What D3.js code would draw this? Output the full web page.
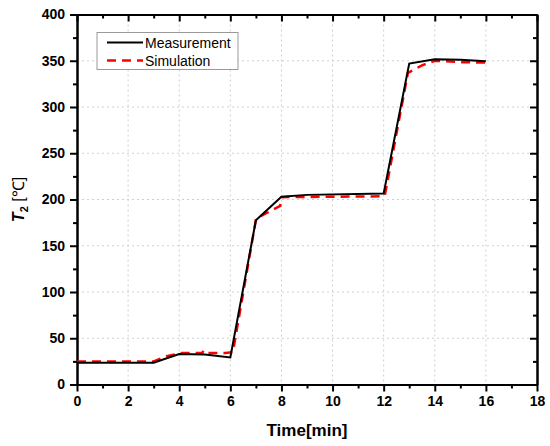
<!DOCTYPE html>
<html>
<head>
<meta charset="utf-8">
<script src="https://cdn.jsdelivr.net/npm/d3@7"></script>
<style>
  body { margin: 0; background: #fff; }
  text { font-family: Arial, "Liberation Sans", sans-serif; }
</style>
</head>
<body>
<div id="chart"></div>
<script>
// data
const measTime = [0, 3, 4, 5, 6, 7, 8, 9, 12, 13, 14, 15, 16];
const measTemp = [23.5, 23.5, 33, 32.5, 29.3, 177.5, 203, 205, 206.5, 347, 351.5, 351, 349.5];

const simTime = [0, 3, 3.5, 4.1, 4.9, 4.95, 5.05, 5.8, 6.1, 7, 7.05, 7.95, 8, 12, 12.05, 12.95, 13.5, 14, 15, 16];
const simTemp = [25, 25, 30.5, 34, 34, 36.5, 34, 34, 35, 178, 180, 193, 202.5, 203.5, 205, 337, 345, 350, 348.5, 348];

const xTicks = [0, 2, 4, 6, 8, 10, 12, 14, 16, 18];
const yTicks = [0, 50, 100, 150, 200, 250, 300, 350, 400];

const margin = {top: 14.5, right: 13, bottom: 61.5, left: 77},
      width = 550 - margin.left - margin.right,
      height = 446 - margin.top - margin.bottom;

const svg = d3.select("#chart").append("svg").attr("width", 550).attr("height", 446)
              .append("g").attr("transform", `translate(${margin.left},${margin.top})`);

const x = d3.scaleLinear().domain([0, 18]).range([0, width]);
const y = d3.scaleLinear().domain([0, 400]).range([height, 0]);

// grid
svg.append("g").selectAll("line").data(xTicks.slice(1, -1)).join("line")
   .attr("x1", d => x(d)).attr("x2", d => x(d)).attr("y1", 0).attr("y2", height)
   .attr("stroke", "#cfcfcf").attr("stroke-width", 1).attr("stroke-dasharray", "2,3");
svg.append("g").selectAll("line").data(yTicks.slice(1, -1)).join("line")
   .attr("y1", d => y(d)).attr("y2", d => y(d)).attr("x1", 0).attr("x2", width)
   .attr("stroke", "#cfcfcf").attr("stroke-width", 1).attr("stroke-dasharray", "2,3");

// axes
const xMinor = d3.range(1, 18, 2), yMinor = d3.range(25, 400, 50);
function axisStyle(g) {
  g.select(".domain").attr("stroke-width", 2);
  g.selectAll(".tick line").attr("stroke-width", 2);
  g.selectAll(".tick text").style("font-size", "14px").style("font-weight", "bold").attr("fill", "#000");
}
svg.append("g").attr("transform", `translate(0,${height})`)
   .call(d3.axisBottom(x).tickValues(xTicks).tickSize(7).tickPadding(5).tickSizeOuter(0)).call(axisStyle);
svg.append("g").attr("transform", `translate(0,${height})`)
   .call(d3.axisBottom(x).tickValues(xMinor).tickSize(4).tickFormat("").tickSizeOuter(0)).call(axisStyle);
svg.append("g")
   .call(d3.axisLeft(y).tickValues(yTicks).tickSize(7).tickPadding(5).tickSizeOuter(0)).call(axisStyle);
svg.append("g")
   .call(d3.axisLeft(y).tickValues(yMinor).tickSize(4).tickFormat("").tickSizeOuter(0)).call(axisStyle);
// top and right, ticks pointing inward
svg.append("g").call(d3.axisBottom(x).tickValues(xTicks).tickSize(7).tickFormat("").tickSizeOuter(0)).call(axisStyle);
svg.append("g").call(d3.axisBottom(x).tickValues(xMinor).tickSize(4).tickFormat("").tickSizeOuter(0)).call(axisStyle);
svg.append("g").attr("transform", `translate(${width},0)`)
   .call(d3.axisLeft(y).tickValues(yTicks).tickSize(7).tickFormat("").tickSizeOuter(0)).call(axisStyle);
svg.append("g").attr("transform", `translate(${width},0)`)
   .call(d3.axisLeft(y).tickValues(yMinor).tickSize(4).tickFormat("").tickSizeOuter(0)).call(axisStyle);

// lines
const line = d3.line().x(d => x(d[0])).y(d => y(d[1]));
svg.append("path").datum(d3.zip(simTime, simTemp)).attr("d", line)
   .attr("fill", "none").attr("stroke", "#ff0000").attr("stroke-width", 2.5).attr("stroke-dasharray", "9,6");
svg.append("path").datum(d3.zip(measTime, measTemp)).attr("d", line)
   .attr("fill", "none").attr("stroke", "#000").attr("stroke-width", 2);

// legend
const leg = svg.append("g").attr("transform", "translate(20,18)");
leg.append("rect").attr("width", 141).attr("height", 37).attr("fill", "#fff")
   .attr("stroke", "#999").attr("stroke-width", 1);
leg.append("line").attr("x1", 10).attr("x2", 46).attr("y1", 10).attr("y2", 10)
   .attr("stroke", "#000").attr("stroke-width", 2);
leg.append("line").attr("x1", 10).attr("x2", 46).attr("y1", 28).attr("y2", 28)
   .attr("stroke", "#ff0000").attr("stroke-width", 2.5).attr("stroke-dasharray", "9,6");
leg.append("text").attr("x", 48).attr("y", 15).style("font-size", "14px").text("Measurement");
leg.append("text").attr("x", 48).attr("y", 33).style("font-size", "14px").text("Simulation");

// axis titles
svg.append("text").attr("x", width / 2).attr("y", height + 51).attr("text-anchor", "middle")
   .style("font-size", "17px").style("font-weight", "bold").text("Time[min]");
const yl = svg.append("text").attr("transform", `translate(-53,${height / 2}) rotate(-90)`)
   .attr("text-anchor", "middle").style("font-size", "16px");
yl.append("tspan").style("font-weight", "bold").style("font-style", "italic").text("T");
yl.append("tspan").attr("dy", 4).style("font-size", "11px").style("font-weight", "bold").text("2");
yl.append("tspan").attr("dy", -4).text(" [℃]");
</script>
</body>
</html>
